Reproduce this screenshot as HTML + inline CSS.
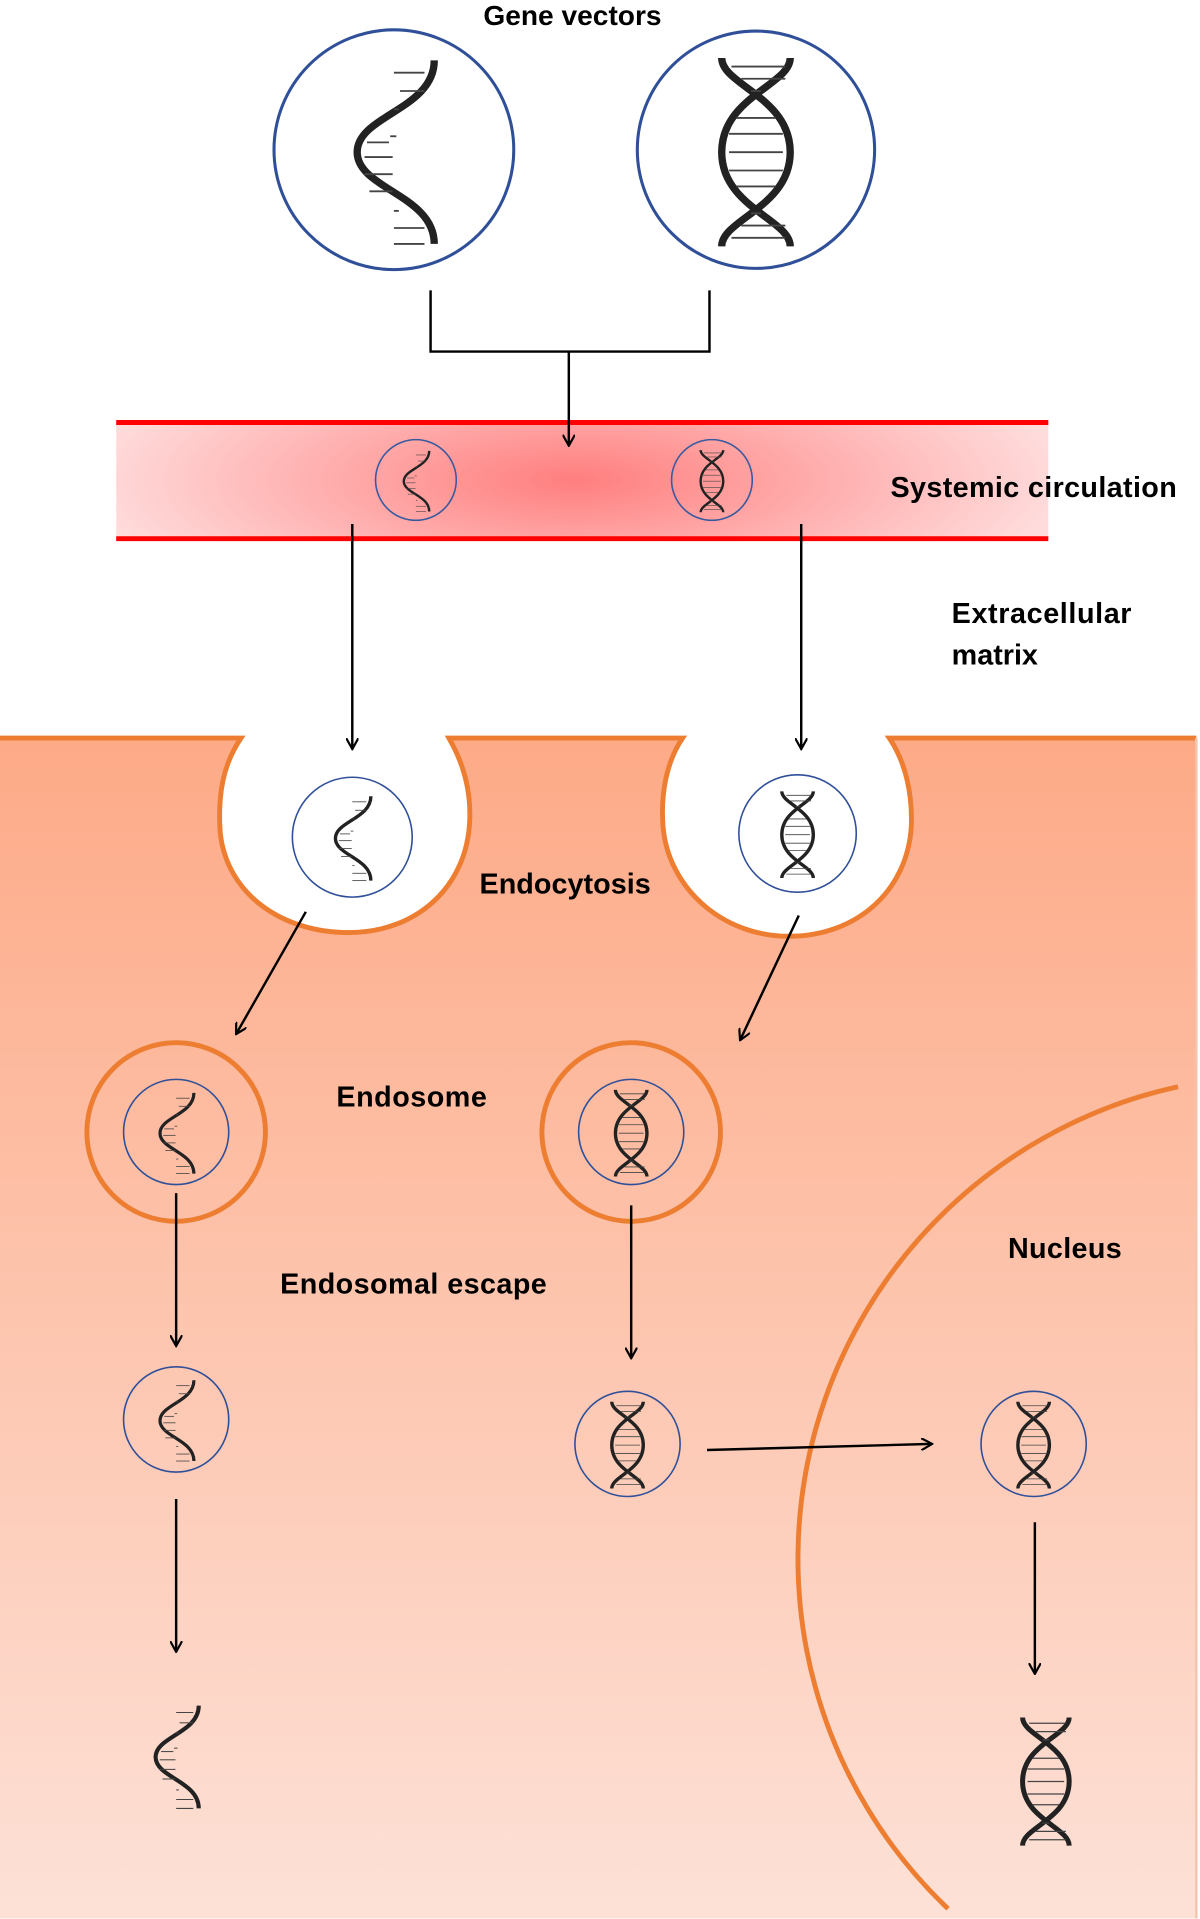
<!DOCTYPE html>
<html><head><meta charset="utf-8"><style>html,body{margin:0;padding:0;background:#fff}svg{display:block}</style></head>
<body>
<svg width="1200" height="1919" viewBox="0 0 981 1568" xmlns="http://www.w3.org/2000/svg" font-family="Liberation Sans, sans-serif">
<defs>
<linearGradient id="cell" x1="0" y1="0" x2="0" y2="1"><stop offset="0" stop-color="#fdaa87"/><stop offset="1" stop-color="#fde1d7"/></linearGradient>
<radialGradient id="blood" gradientUnits="userSpaceOnUse" cx="470" cy="392" r="400" gradientTransform="translate(470,392) scale(1,0.3) translate(-470,-392)"><stop offset="0" stop-color="#ff7e7e"/><stop offset="1" stop-color="#ffdcdc"/></radialGradient>
<g id="ss">
<path d="M33,-75 C33,-35 -30,-30 -30,0 C-30,30 33,35 33,75" fill="none" stroke="#222" stroke-width="6"/>
<g stroke="#444" stroke-width="1.5">
<line x1="0" y1="-65" x2="25" y2="-65"/><line x1="5" y1="-50" x2="25" y2="-50"/><line x1="0" y1="-35" x2="4" y2="-35"/><line x1="-3" y1="-13" x2="2" y2="-13"/>
<line x1="-22" y1="-8" x2="-4" y2="-8"/><line x1="-24" y1="4" x2="-1" y2="4"/><line x1="-24" y1="18" x2="-1" y2="18"/><line x1="-20" y1="32" x2="-1" y2="32"/>
<line x1="0" y1="62" x2="25" y2="62"/><line x1="0" y1="48" x2="4" y2="48"/><line x1="0" y1="75" x2="25" y2="75"/>
</g></g>
<g id="ds">
<path d="M-28,-77 C-28,-55 28,-45 28,0 C28,45 -28,55 -28,77" fill="none" stroke="#222" stroke-width="6"/>
<path d="M28,-77 C28,-55 -28,-45 -28,0 C-28,45 28,55 28,77" fill="none" stroke="#222" stroke-width="6"/>
<g stroke="#444" stroke-width="1.5">
<line x1="-20" y1="-70" x2="24" y2="-70"/><line x1="-12" y1="-60" x2="24" y2="-60"/><line x1="-4" y1="-50" x2="4" y2="-50"/>
<line x1="-16" y1="-28" x2="16" y2="-28"/><line x1="-22" y1="-15" x2="22" y2="-15"/><line x1="-22" y1="0" x2="22" y2="0"/><line x1="-22" y1="15" x2="22" y2="15"/><line x1="-16" y1="28" x2="16" y2="28"/>
<line x1="-4" y1="50" x2="4" y2="50"/><line x1="-12" y1="60" x2="24" y2="60"/><line x1="-20" y1="70" x2="24" y2="70"/>
</g></g>
<marker id="ar" viewBox="0 0 10 10" refX="9" refY="5" markerWidth="10" markerHeight="10" markerUnits="userSpaceOnUse" orient="auto"><path d="M0,0 L9,5 L0,10" fill="none" stroke="#000" stroke-width="1.8"/></marker>
<clipPath id="cc"><rect x="0" y="603" width="981" height="965"/></clipPath>
</defs>

<text x="468" y="20" font-size="23" font-weight="bold" text-anchor="middle">Gene vectors</text>
<circle cx="322" cy="122" r="98" fill="#fff" stroke="#2f4f99" stroke-width="2.5"/>
<use href="#ss" transform="translate(322,124)"/>
<circle cx="618" cy="122" r="97" fill="#fff" stroke="#2f4f99" stroke-width="2.5"/>
<use href="#ds" transform="translate(618,124)"/>

<path d="M352,237 V287 H580 V237" fill="none" stroke="#000" stroke-width="2"/>

<rect x="95" y="345" width="762" height="95" fill="url(#blood)"/>
<line x1="95" y1="345" x2="857" y2="345" stroke="#f00" stroke-width="4"/>
<line x1="95" y1="440" x2="857" y2="440" stroke="#f00" stroke-width="4"/>
<line x1="465" y1="287" x2="465" y2="364" stroke="#000" stroke-width="2" marker-end="url(#ar)"/>
<circle cx="340" cy="392" r="33" fill="none" stroke="#3a5aa0" stroke-width="1.3"/>
<use href="#ss" transform="translate(340,393) scale(0.33)"/>
<circle cx="582" cy="392" r="33" fill="none" stroke="#3a5aa0" stroke-width="1.3"/>
<use href="#ds" transform="translate(582,393) scale(0.33)"/>
<text x="728" y="406" font-size="23.5" font-weight="bold" textLength="234">Systemic circulation</text>
<text x="778" y="509" font-size="23.5" font-weight="bold" textLength="147">Extracellular</text>
<text x="778" y="543" font-size="23.5" font-weight="bold">matrix</text>

<line x1="288" y1="428" x2="288" y2="612" stroke="#000" stroke-width="2" marker-end="url(#ar)"/>
<line x1="655" y1="428" x2="655" y2="612" stroke="#000" stroke-width="2" marker-end="url(#ar)"/>

<path id="mem" d="M0,603 H197 C182,625 178,650 180,680 C185,730 230,762 285,762 C340,762 382,725 384,670 C385,645 378,622 367,603 H558 C545,622 540,648 542,675 C546,725 590,765 645,765 C700,765 742,728 745,675 C746,648 740,622 727,603 H978" fill="none"/>
<path d="M0,603 H197 C182,625 178,650 180,680 C185,730 230,762 285,762 C340,762 382,725 384,670 C385,645 378,622 367,603 H558 C545,622 540,648 542,675 C546,725 590,765 645,765 C700,765 742,728 745,675 C746,648 740,622 727,603 H978 V1568 H0 Z" fill="url(#cell)"/>
<use href="#mem" stroke="#ed7d31" stroke-width="4"/>
<line x1="978" y1="603" x2="978" y2="1568" stroke="#f3c4ad" stroke-width="2"/>
<circle cx="288" cy="684" r="49" fill="#fff" stroke="#2f4f99" stroke-width="1.3"/>
<use href="#ss" transform="translate(288,685) scale(0.46)"/>
<circle cx="652" cy="681" r="48" fill="#fff" stroke="#2f4f99" stroke-width="1.3"/>
<use href="#ds" transform="translate(652,682) scale(0.46)"/>
<text x="392" y="730" font-size="23.5" font-weight="bold" textLength="140">Endocytosis</text>

<line x1="250" y1="745" x2="193" y2="845" stroke="#000" stroke-width="2" marker-end="url(#ar)"/>
<line x1="653" y1="748" x2="605" y2="850" stroke="#000" stroke-width="2" marker-end="url(#ar)"/>

<circle cx="144" cy="925" r="73" fill="none" stroke="#ed7d31" stroke-width="4"/>
<circle cx="144" cy="925" r="43" fill="none" stroke="#2f4f99" stroke-width="1.3"/>
<use href="#ss" transform="translate(144,926) scale(0.44)"/>
<circle cx="516" cy="925" r="73" fill="none" stroke="#ed7d31" stroke-width="4"/>
<circle cx="516" cy="925" r="43" fill="none" stroke="#2f4f99" stroke-width="1.3"/>
<use href="#ds" transform="translate(516,926) scale(0.46)"/>
<text x="275" y="904" font-size="23.5" font-weight="bold" textLength="123">Endosome</text>
<text x="229" y="1057" font-size="23.5" font-weight="bold" textLength="218">Endosomal escape</text>

<path d="M963,888 A395,395 0 0 0 775,1560" fill="none" stroke="#ed7d31" stroke-width="4" clip-path="url(#cc)"/>
<text x="824" y="1028" font-size="23.5" font-weight="bold" textLength="93">Nucleus</text>

<line x1="144" y1="975" x2="144" y2="1100" stroke="#000" stroke-width="2" marker-end="url(#ar)"/>
<line x1="516" y1="985" x2="516" y2="1110" stroke="#000" stroke-width="2" marker-end="url(#ar)"/>

<circle cx="144" cy="1160" r="43" fill="none" stroke="#2f4f99" stroke-width="1.3"/>
<use href="#ss" transform="translate(144,1161) scale(0.44)"/>
<circle cx="513" cy="1180" r="43" fill="none" stroke="#2f4f99" stroke-width="1.3"/>
<use href="#ds" transform="translate(513,1181) scale(0.46)"/>
<circle cx="845" cy="1180" r="43" fill="none" stroke="#2f4f99" stroke-width="1.3"/>
<use href="#ds" transform="translate(845,1181) scale(0.46)"/>

<line x1="578" y1="1185" x2="762" y2="1180" stroke="#000" stroke-width="2" marker-end="url(#ar)"/>
<line x1="144" y1="1225" x2="144" y2="1350" stroke="#000" stroke-width="2" marker-end="url(#ar)"/>
<line x1="846" y1="1244" x2="846" y2="1368" stroke="#000" stroke-width="2" marker-end="url(#ar)"/>

<use href="#ss" transform="translate(144,1436) scale(0.56)"/>
<use href="#ds" transform="translate(855,1456) scale(0.68)"/>
</svg>
</body></html>
